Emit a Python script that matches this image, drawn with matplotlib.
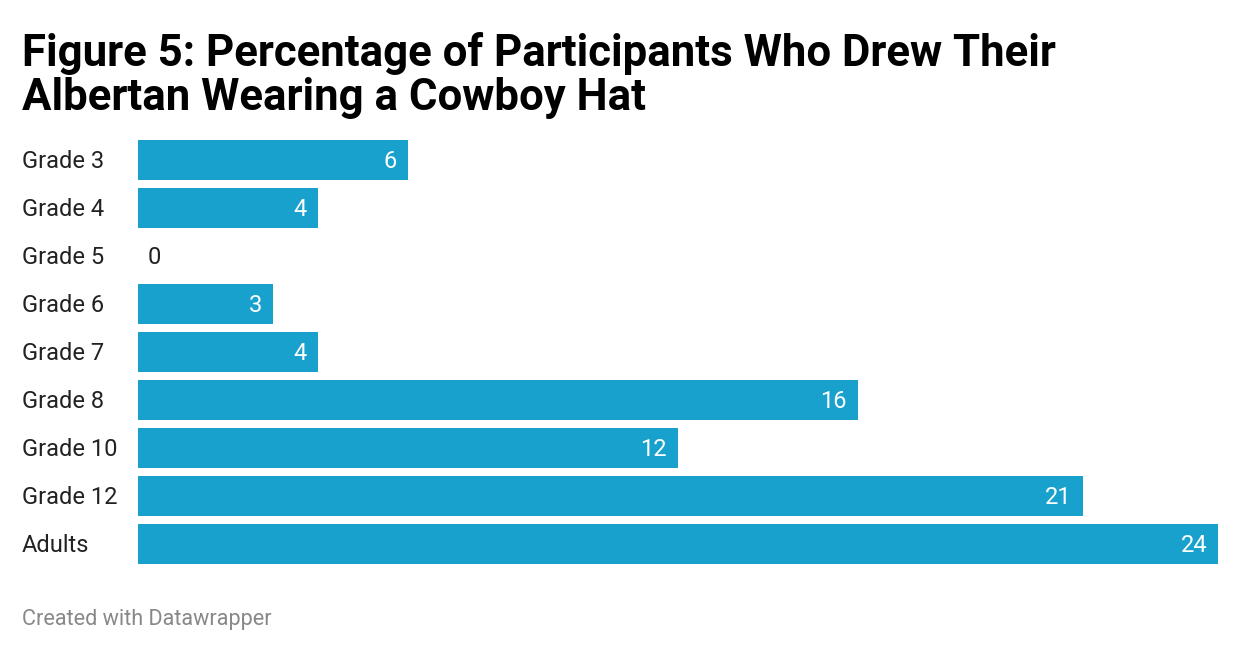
import matplotlib.pyplot as plt

plt.rcParams['font.family'] = ['Roboto', 'DejaVu Sans']

groups = ['Grade 3', 'Grade 4', 'Grade 5', 'Grade 6', 'Grade 7', 'Grade 8', 'Grade 10', 'Grade 12', 'Adults']
values = [6, 4, 0, 3, 4, 16, 12, 21, 24]

W, H = 1240, 650
fig = plt.figure(figsize=(W / 100, H / 100), dpi=100)

# bars area: x 138..1218 px, rows of 48 px starting at y=136
ax = fig.add_axes([138 / W, (H - 568) / H, 1080 / W, 432 / H])
pos = list(range(len(groups)))
ax.barh(pos, values, height=40 / 48, color='#18a1cd')
ax.set_xlim(0, 24)
ax.set_ylim(len(groups) - 0.5, -0.5)
ax.axis('off')

dy = 2 / 48  # nudge labels down a little
for y, (g, v) in enumerate(zip(groups, values)):
    ax.text(-116 / 45, y + dy, g, ha='left', va='center', fontsize=17, color='#222222')
    if v > 0:
        ax.text(v - 11 / 45, y + dy, str(v), ha='right', va='center', fontsize=17, color='white')
    else:
        ax.text(10 / 45, y + dy, str(v), ha='left', va='center', fontsize=17, color='#222222')

# va=baseline refers to the last line of the title
fig.text(22 / W, 1 - 110 / H, 'Figure 5: Percentage of Participants Who Drew Their\nAlbertan Wearing a Cowboy Hat',
         ha='left', va='baseline', fontsize=31.5, fontweight='bold', color='#000000', linespacing=1.07)
fig.text(22 / W, 1 - 625 / H, 'Created with Datawrapper', ha='left', va='baseline',
         fontsize=15.6, color='#888888')

plt.savefig('out.png', dpi=100)
